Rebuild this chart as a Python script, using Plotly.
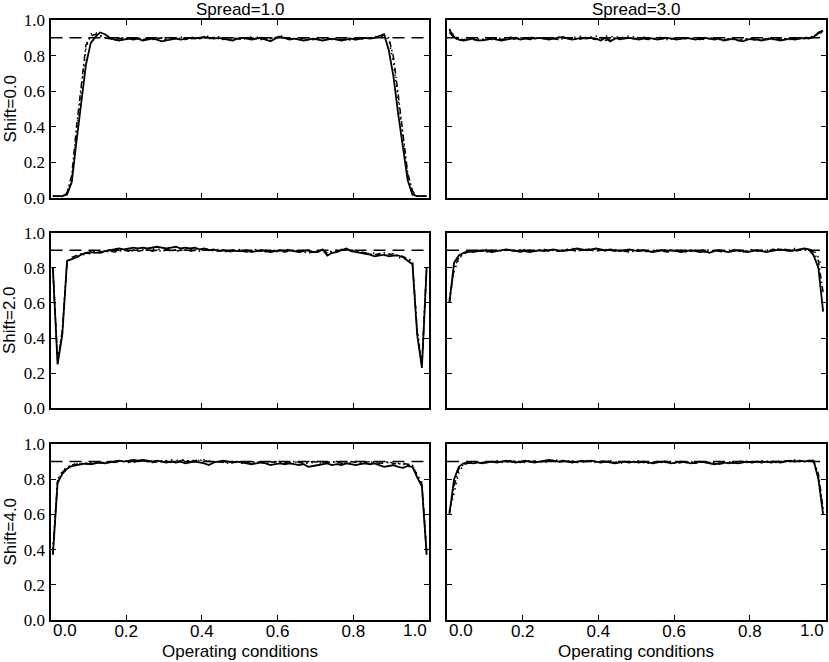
import plotly.graph_objects as go

# ---------------- data ----------------
X_CENTERS = [
    0.00625, 0.01875, 0.03125, 0.04375, 0.05625, 0.06875, 0.08125, 0.09375, 0.10625, 0.11875,
    0.13125, 0.14375, 0.15625, 0.16875, 0.18125, 0.19375, 0.20625, 0.21875, 0.23125, 0.24375,
    0.25625, 0.26875, 0.28125, 0.29375, 0.30625, 0.31875, 0.33125, 0.34375, 0.35625, 0.36875,
    0.38125, 0.39375, 0.40625, 0.41875, 0.43125, 0.44375, 0.45625, 0.46875, 0.48125, 0.49375,
    0.50625, 0.51875, 0.53125, 0.54375, 0.55625, 0.56875, 0.58125, 0.59375, 0.60625, 0.61875,
    0.63125, 0.64375, 0.65625, 0.66875, 0.68125, 0.69375, 0.70625, 0.71875, 0.73125, 0.74375,
    0.75625, 0.76875, 0.78125, 0.79375, 0.80625, 0.81875, 0.83125, 0.84375, 0.85625, 0.86875,
    0.88125, 0.89375, 0.90625, 0.91875, 0.93125, 0.94375, 0.95625, 0.96875, 0.98125, 0.99375,
]
TARGET = 0.9
SPREADS = ["Spread=1.0", "Spread=3.0"]
SHIFTS = ["Shift=0.0", "Shift=2.0", "Shift=4.0"]
X_TICKS = [0.2, 0.4, 0.6, 0.8]
X_TICK_TEXT = ["0.2", "0.4", "0.6", "0.8"]
X_END_LABELS = ["0.0", "1.0"]
Y_TICKS = [0.0, 0.2, 0.4, 0.6, 0.8, 1.0]
Y_TICK_TEXT = ["0.0", "0.2", "0.4", "0.6", "0.8", "1.0"]
X_TITLE = "Operating conditions"

# Shift=0.0, Spread=1.0
A_SOLID = [
    0.01, 0.01, 0.01, 0.02, 0.09, 0.32, 0.53, 0.75, 0.87, 0.905,
    0.93, 0.92, 0.90, 0.89, 0.885, 0.89, 0.895, 0.89, 0.895, 0.885,
    0.89, 0.895, 0.89, 0.88, 0.885, 0.89, 0.895, 0.89, 0.895, 0.90,
    0.895, 0.90, 0.905, 0.90, 0.895, 0.90, 0.895, 0.89, 0.885, 0.895,
    0.90, 0.895, 0.89, 0.895, 0.90, 0.89, 0.88, 0.895, 0.905, 0.90,
    0.89, 0.895, 0.89, 0.885, 0.89, 0.895, 0.89, 0.885, 0.89, 0.895,
    0.89, 0.885, 0.89, 0.895, 0.89, 0.895, 0.90, 0.895, 0.90, 0.91,
    0.92, 0.83, 0.68, 0.47, 0.27, 0.10, 0.02, 0.01, 0.01, 0.01,
]
A_DASHDOT = [
    0.01, 0.01, 0.01, 0.03, 0.13, 0.40, 0.64, 0.86, 0.91, 0.92,
    0.91, 0.90, 0.895, 0.89, 0.895, 0.90, 0.89, 0.895, 0.90, 0.89,
    0.895, 0.89, 0.895, 0.90, 0.89, 0.895, 0.90, 0.895, 0.89, 0.90,
    0.905, 0.895, 0.90, 0.895, 0.90, 0.905, 0.89, 0.895, 0.90, 0.895,
    0.89, 0.90, 0.895, 0.905, 0.895, 0.89, 0.895, 0.90, 0.91, 0.895,
    0.895, 0.89, 0.895, 0.90, 0.895, 0.89, 0.895, 0.90, 0.895, 0.89,
    0.895, 0.89, 0.895, 0.90, 0.895, 0.89, 0.895, 0.90, 0.905, 0.91,
    0.915, 0.90, 0.79, 0.58, 0.35, 0.14, 0.04, 0.01, 0.01, 0.01,
]
A_DOTTED = [
    0.01, 0.01, 0.01, 0.03, 0.11, 0.37, 0.61, 0.84, 0.92, 0.93,
    0.915, 0.90, 0.89, 0.895, 0.90, 0.895, 0.89, 0.90, 0.895, 0.89,
    0.89, 0.895, 0.90, 0.895, 0.89, 0.895, 0.90, 0.905, 0.895, 0.89,
    0.90, 0.895, 0.905, 0.91, 0.90, 0.895, 0.90, 0.89, 0.895, 0.90,
    0.895, 0.90, 0.905, 0.895, 0.89, 0.895, 0.90, 0.895, 0.915, 0.90,
    0.895, 0.89, 0.895, 0.90, 0.885, 0.89, 0.895, 0.90, 0.895, 0.90,
    0.89, 0.895, 0.90, 0.885, 0.89, 0.895, 0.90, 0.895, 0.90, 0.905,
    0.91, 0.89, 0.76, 0.55, 0.33, 0.13, 0.03, 0.01, 0.01, 0.01,
]

# Shift=0.0, Spread=3.0
B_SOLID = [
    0.945, 0.905, 0.89, 0.885, 0.89, 0.895, 0.885, 0.885, 0.89, 0.895,
    0.89, 0.885, 0.89, 0.895, 0.90, 0.89, 0.895, 0.90, 0.895, 0.90,
    0.895, 0.89, 0.895, 0.90, 0.905, 0.895, 0.89, 0.895, 0.90, 0.895,
    0.90, 0.895, 0.885, 0.90, 0.88, 0.895, 0.90, 0.895, 0.90, 0.895,
    0.89, 0.895, 0.90, 0.895, 0.89, 0.895, 0.90, 0.895, 0.89, 0.895,
    0.90, 0.895, 0.89, 0.895, 0.90, 0.895, 0.89, 0.895, 0.885, 0.89,
    0.895, 0.885, 0.88, 0.89, 0.895, 0.89, 0.885, 0.89, 0.895, 0.89,
    0.885, 0.89, 0.895, 0.89, 0.895, 0.90, 0.895, 0.905, 0.93, 0.94,
]
B_DASHDOT = [
    0.93, 0.90, 0.885, 0.89, 0.895, 0.89, 0.885, 0.89, 0.895, 0.89,
    0.895, 0.89, 0.895, 0.89, 0.895, 0.90, 0.895, 0.89, 0.895, 0.90,
    0.895, 0.90, 0.895, 0.89, 0.895, 0.90, 0.895, 0.89, 0.895, 0.90,
    0.895, 0.89, 0.90, 0.885, 0.895, 0.90, 0.89, 0.895, 0.90, 0.895,
    0.90, 0.895, 0.89, 0.895, 0.90, 0.895, 0.89, 0.895, 0.90, 0.89,
    0.895, 0.90, 0.895, 0.89, 0.895, 0.90, 0.895, 0.89, 0.885, 0.895,
    0.89, 0.885, 0.89, 0.895, 0.89, 0.885, 0.89, 0.895, 0.89, 0.895,
    0.89, 0.895, 0.89, 0.895, 0.90, 0.895, 0.90, 0.905, 0.925, 0.93,
]
B_DOTTED = [
    0.95, 0.91, 0.895, 0.89, 0.895, 0.90, 0.895, 0.89, 0.90, 0.895,
    0.90, 0.895, 0.90, 0.905, 0.895, 0.90, 0.895, 0.90, 0.905, 0.895,
    0.90, 0.895, 0.90, 0.905, 0.90, 0.895, 0.90, 0.905, 0.91, 0.90,
    0.905, 0.91, 0.90, 0.91, 0.905, 0.91, 0.90, 0.905, 0.91, 0.905,
    0.90, 0.905, 0.90, 0.895, 0.90, 0.905, 0.90, 0.895, 0.90, 0.895,
    0.90, 0.895, 0.90, 0.895, 0.89, 0.895, 0.90, 0.895, 0.89, 0.895,
    0.89, 0.895, 0.89, 0.895, 0.90, 0.895, 0.89, 0.895, 0.90, 0.895,
    0.90, 0.895, 0.90, 0.895, 0.90, 0.905, 0.90, 0.91, 0.92, 0.935,
]

# Shift=2.0, Spread=1.0
C_SOLID = [
    0.80, 0.25, 0.42, 0.84, 0.85, 0.86, 0.875, 0.885, 0.89, 0.885,
    0.89, 0.895, 0.90, 0.905, 0.91, 0.905, 0.91, 0.915, 0.91, 0.915,
    0.91, 0.915, 0.92, 0.915, 0.91, 0.915, 0.92, 0.91, 0.915, 0.91,
    0.915, 0.905, 0.91, 0.90, 0.905, 0.895, 0.90, 0.895, 0.90, 0.895,
    0.895, 0.90, 0.89, 0.895, 0.90, 0.895, 0.89, 0.895, 0.90, 0.895,
    0.90, 0.895, 0.89, 0.895, 0.90, 0.89, 0.89, 0.905, 0.87, 0.885,
    0.89, 0.90, 0.91, 0.895, 0.89, 0.885, 0.88, 0.875, 0.865, 0.87,
    0.875, 0.865, 0.87, 0.87, 0.86, 0.84, 0.82, 0.42, 0.23, 0.80,
]
C_DASHDOT = [
    0.80, 0.26, 0.44, 0.83, 0.86, 0.87, 0.88, 0.885, 0.88, 0.89,
    0.885, 0.89, 0.895, 0.89, 0.895, 0.90, 0.895, 0.90, 0.895, 0.90,
    0.905, 0.895, 0.90, 0.895, 0.905, 0.90, 0.895, 0.90, 0.905, 0.895,
    0.90, 0.895, 0.90, 0.905, 0.895, 0.90, 0.895, 0.89, 0.895, 0.90,
    0.895, 0.89, 0.895, 0.90, 0.895, 0.89, 0.895, 0.90, 0.895, 0.89,
    0.895, 0.90, 0.895, 0.89, 0.885, 0.89, 0.895, 0.90, 0.885, 0.89,
    0.895, 0.90, 0.905, 0.90, 0.895, 0.89, 0.885, 0.88, 0.875, 0.88,
    0.885, 0.875, 0.88, 0.87, 0.865, 0.85, 0.83, 0.44, 0.24, 0.80,
]
C_DOTTED = [
    0.79, 0.27, 0.45, 0.84, 0.85, 0.86, 0.87, 0.88, 0.89, 0.895,
    0.89, 0.895, 0.90, 0.895, 0.90, 0.905, 0.90, 0.895, 0.90, 0.905,
    0.90, 0.905, 0.91, 0.90, 0.895, 0.90, 0.905, 0.91, 0.90, 0.905,
    0.91, 0.90, 0.905, 0.91, 0.90, 0.905, 0.90, 0.895, 0.90, 0.905,
    0.90, 0.895, 0.90, 0.905, 0.895, 0.90, 0.895, 0.89, 0.895, 0.90,
    0.905, 0.90, 0.895, 0.90, 0.895, 0.89, 0.895, 0.90, 0.89, 0.895,
    0.90, 0.905, 0.91, 0.90, 0.895, 0.89, 0.885, 0.88, 0.885, 0.875,
    0.87, 0.88, 0.875, 0.86, 0.85, 0.855, 0.84, 0.45, 0.25, 0.81,
]

# Shift=2.0, Spread=3.0
D_SOLID = [
    0.60, 0.83, 0.87, 0.885, 0.895, 0.89, 0.895, 0.90, 0.895, 0.89,
    0.895, 0.90, 0.905, 0.90, 0.895, 0.90, 0.895, 0.89, 0.895, 0.90,
    0.895, 0.90, 0.905, 0.90, 0.895, 0.90, 0.905, 0.91, 0.905, 0.90,
    0.905, 0.91, 0.905, 0.90, 0.905, 0.90, 0.895, 0.90, 0.905, 0.90,
    0.895, 0.90, 0.895, 0.89, 0.895, 0.90, 0.895, 0.90, 0.895, 0.89,
    0.895, 0.90, 0.895, 0.89, 0.895, 0.885, 0.895, 0.90, 0.895, 0.89,
    0.895, 0.90, 0.895, 0.89, 0.895, 0.90, 0.895, 0.89, 0.895, 0.90,
    0.905, 0.90, 0.895, 0.90, 0.905, 0.91, 0.905, 0.87, 0.80, 0.55,
]
D_DASHDOT = [
    0.60, 0.80, 0.86, 0.88, 0.89, 0.895, 0.90, 0.895, 0.89, 0.895,
    0.90, 0.895, 0.90, 0.905, 0.895, 0.89, 0.895, 0.90, 0.895, 0.90,
    0.905, 0.895, 0.90, 0.895, 0.90, 0.905, 0.90, 0.895, 0.90, 0.905,
    0.90, 0.895, 0.90, 0.905, 0.90, 0.895, 0.90, 0.895, 0.89, 0.895,
    0.90, 0.895, 0.89, 0.895, 0.90, 0.895, 0.89, 0.895, 0.90, 0.895,
    0.89, 0.895, 0.90, 0.895, 0.89, 0.895, 0.90, 0.895, 0.89, 0.895,
    0.90, 0.895, 0.89, 0.895, 0.90, 0.895, 0.90, 0.895, 0.90, 0.905,
    0.90, 0.905, 0.90, 0.895, 0.90, 0.905, 0.90, 0.89, 0.84, 0.66,
]
D_DOTTED = [
    0.62, 0.78, 0.85, 0.88, 0.895, 0.90, 0.895, 0.90, 0.905, 0.90,
    0.895, 0.90, 0.905, 0.90, 0.895, 0.90, 0.905, 0.90, 0.895, 0.90,
    0.90, 0.905, 0.90, 0.895, 0.90, 0.905, 0.91, 0.905, 0.90, 0.905,
    0.91, 0.905, 0.90, 0.895, 0.90, 0.905, 0.90, 0.895, 0.90, 0.90,
    0.905, 0.90, 0.895, 0.90, 0.895, 0.90, 0.905, 0.90, 0.895, 0.90,
    0.895, 0.90, 0.895, 0.90, 0.905, 0.90, 0.895, 0.90, 0.895, 0.90,
    0.905, 0.90, 0.895, 0.90, 0.905, 0.90, 0.895, 0.90, 0.905, 0.91,
    0.905, 0.90, 0.905, 0.91, 0.905, 0.90, 0.905, 0.90, 0.86, 0.78,
]

# Shift=4.0, Spread=1.0
E_SOLID = [
    0.37, 0.78, 0.83, 0.86, 0.875, 0.88, 0.885, 0.89, 0.885, 0.89,
    0.895, 0.89, 0.895, 0.90, 0.905, 0.90, 0.905, 0.91, 0.905, 0.91,
    0.905, 0.90, 0.905, 0.90, 0.895, 0.90, 0.895, 0.90, 0.89, 0.895,
    0.90, 0.895, 0.89, 0.88, 0.895, 0.90, 0.905, 0.90, 0.895, 0.90,
    0.895, 0.89, 0.885, 0.89, 0.895, 0.89, 0.88, 0.885, 0.89, 0.885,
    0.89, 0.885, 0.88, 0.885, 0.87, 0.875, 0.88, 0.885, 0.89, 0.88,
    0.885, 0.88, 0.89, 0.885, 0.88, 0.885, 0.89, 0.885, 0.89, 0.88,
    0.87, 0.875, 0.88, 0.87, 0.865, 0.875, 0.87, 0.81, 0.76, 0.37,
]
E_DASHDOT = [
    0.38, 0.79, 0.84, 0.865, 0.88, 0.885, 0.89, 0.885, 0.89, 0.895,
    0.89, 0.895, 0.90, 0.895, 0.90, 0.905, 0.90, 0.895, 0.90, 0.905,
    0.90, 0.895, 0.90, 0.905, 0.90, 0.895, 0.90, 0.905, 0.91, 0.90,
    0.905, 0.91, 0.905, 0.90, 0.895, 0.90, 0.895, 0.89, 0.895, 0.90,
    0.895, 0.89, 0.895, 0.90, 0.895, 0.89, 0.895, 0.90, 0.895, 0.89,
    0.895, 0.90, 0.895, 0.89, 0.895, 0.90, 0.895, 0.89, 0.895, 0.90,
    0.895, 0.89, 0.895, 0.90, 0.895, 0.89, 0.895, 0.90, 0.895, 0.89,
    0.895, 0.90, 0.89, 0.885, 0.89, 0.885, 0.88, 0.82, 0.77, 0.38,
]
E_DOTTED = [
    0.40, 0.80, 0.845, 0.87, 0.88, 0.89, 0.885, 0.89, 0.895, 0.89,
    0.895, 0.90, 0.895, 0.90, 0.905, 0.90, 0.895, 0.90, 0.905, 0.90,
    0.905, 0.90, 0.895, 0.90, 0.905, 0.91, 0.905, 0.91, 0.905, 0.90,
    0.91, 0.905, 0.91, 0.905, 0.90, 0.895, 0.90, 0.895, 0.90, 0.895,
    0.89, 0.895, 0.90, 0.895, 0.89, 0.895, 0.90, 0.895, 0.90, 0.895,
    0.89, 0.895, 0.90, 0.895, 0.89, 0.895, 0.90, 0.895, 0.89, 0.895,
    0.90, 0.895, 0.89, 0.895, 0.90, 0.895, 0.89, 0.895, 0.90, 0.895,
    0.89, 0.895, 0.885, 0.89, 0.885, 0.88, 0.875, 0.83, 0.78, 0.40,
]

# Shift=4.0, Spread=3.0
F_SOLID = [
    0.60, 0.80, 0.87, 0.89, 0.895, 0.89, 0.895, 0.89, 0.895, 0.90,
    0.895, 0.90, 0.905, 0.90, 0.895, 0.90, 0.905, 0.90, 0.895, 0.90,
    0.905, 0.91, 0.905, 0.90, 0.905, 0.90, 0.895, 0.90, 0.905, 0.90,
    0.905, 0.90, 0.895, 0.90, 0.895, 0.89, 0.895, 0.90, 0.895, 0.90,
    0.895, 0.90, 0.895, 0.89, 0.895, 0.90, 0.895, 0.89, 0.895, 0.90,
    0.895, 0.89, 0.895, 0.90, 0.895, 0.89, 0.885, 0.89, 0.895, 0.89,
    0.895, 0.89, 0.895, 0.90, 0.895, 0.90, 0.895, 0.90, 0.895, 0.90,
    0.895, 0.90, 0.905, 0.90, 0.905, 0.90, 0.905, 0.905, 0.80, 0.60,
]
F_DASHDOT = [
    0.61, 0.76, 0.86, 0.885, 0.89, 0.895, 0.89, 0.895, 0.90, 0.895,
    0.90, 0.895, 0.90, 0.905, 0.90, 0.895, 0.90, 0.905, 0.90, 0.895,
    0.90, 0.905, 0.90, 0.895, 0.90, 0.905, 0.90, 0.895, 0.90, 0.905,
    0.90, 0.895, 0.90, 0.905, 0.90, 0.895, 0.89, 0.895, 0.90, 0.895,
    0.90, 0.895, 0.89, 0.895, 0.90, 0.895, 0.90, 0.895, 0.89, 0.895,
    0.90, 0.895, 0.89, 0.895, 0.90, 0.895, 0.89, 0.885, 0.89, 0.895,
    0.89, 0.895, 0.90, 0.895, 0.90, 0.895, 0.90, 0.895, 0.90, 0.895,
    0.90, 0.905, 0.90, 0.905, 0.90, 0.905, 0.90, 0.90, 0.83, 0.63,
]
F_DOTTED = [
    0.62, 0.72, 0.84, 0.88, 0.895, 0.90, 0.895, 0.89, 0.895, 0.90,
    0.905, 0.90, 0.895, 0.90, 0.905, 0.90, 0.895, 0.90, 0.905, 0.90,
    0.895, 0.90, 0.905, 0.91, 0.905, 0.90, 0.905, 0.90, 0.895, 0.90,
    0.905, 0.90, 0.895, 0.90, 0.905, 0.90, 0.895, 0.90, 0.895, 0.90,
    0.905, 0.90, 0.895, 0.90, 0.895, 0.90, 0.905, 0.90, 0.895, 0.90,
    0.895, 0.90, 0.895, 0.90, 0.895, 0.89, 0.895, 0.90, 0.895, 0.90,
    0.895, 0.90, 0.905, 0.90, 0.895, 0.90, 0.905, 0.90, 0.905, 0.90,
    0.905, 0.90, 0.905, 0.91, 0.905, 0.90, 0.905, 0.90, 0.82, 0.62,
]

PANELS = [
    [(A_SOLID, A_DASHDOT, A_DOTTED), (B_SOLID, B_DASHDOT, B_DOTTED)],
    [(C_SOLID, C_DASHDOT, C_DOTTED), (D_SOLID, D_DASHDOT, D_DOTTED)],
    [(E_SOLID, E_DASHDOT, E_DOTTED), (F_SOLID, F_DASHDOT, F_DOTTED)],
]

# ---------------- layout geometry (pixels) ----------------
W, H = 829, 662
COL_PX = [(50.5, 429.0), (447.0, 825.5)]
ROW_PX = [(20.0, 198.0), (232.7, 408.3), (444.0, 620.0)]

SANS = "Liberation Sans, Arial, sans-serif"
SERIF = "Liberation Serif, Times New Roman, serif"

fig = go.Figure()
layout = dict(
    width=W, height=H,
    margin=dict(l=0, r=0, t=0, b=0, autoexpand=False),
    paper_bgcolor="white", plot_bgcolor="white",
    showlegend=False,
    font=dict(family=SANS, size=17, color="black"),
)
annotations = []

for r in range(3):
    for c in range(2):
        k = r * 2 + c + 1
        xa = "x" if k == 1 else f"x{k}"
        ya = "y" if k == 1 else f"y{k}"
        x0, x1 = COL_PX[c]
        y0, y1 = ROW_PX[r]
        solid, dashdot, dotted = PANELS[r][c]

        fig.add_trace(go.Scatter(x=[0, 1], y=[TARGET, TARGET], mode="lines",
                                 line=dict(color="black", width=1.5, dash="12px,7px"),
                                 xaxis=xa, yaxis=ya, hoverinfo="skip"))
        fig.add_trace(go.Scatter(x=X_CENTERS, y=dotted, mode="lines",
                                 line=dict(color="black", width=1.5, dash="1.5px,4px"),
                                 xaxis=xa, yaxis=ya))
        fig.add_trace(go.Scatter(x=X_CENTERS, y=dashdot, mode="lines",
                                 line=dict(color="black", width=1.5, dash="6px,3px,1.5px,3px"),
                                 xaxis=xa, yaxis=ya))
        fig.add_trace(go.Scatter(x=X_CENTERS, y=solid, mode="lines",
                                 line=dict(color="black", width=1.8),
                                 xaxis=xa, yaxis=ya))

        bottom = r == 2
        left = c == 0
        xkey = "xaxis" if k == 1 else f"xaxis{k}"
        ykey = "yaxis" if k == 1 else f"yaxis{k}"
        layout[xkey] = dict(
            domain=[x0 / W, x1 / W], anchor=ya, range=[0, 1], automargin=False,
            tickvals=X_TICKS, ticktext=X_TICK_TEXT, ticklabelstandoff=-5,
            showticklabels=bottom, ticks="inside", ticklen=5, tickwidth=1,
            tickcolor="black", mirror="ticks", showline=True, linecolor="black",
            linewidth=2, showgrid=False, zeroline=False,
            tickfont=dict(family=SANS, size=17, color="black"),
        )
        layout[ykey] = dict(
            domain=[1 - y1 / H, 1 - y0 / H], anchor=xa, range=[0, 1], automargin=False,
            tickvals=Y_TICKS, ticktext=Y_TICK_TEXT,
            showticklabels=left, ticks="inside", ticklen=5, tickwidth=1,
            tickcolor="black", mirror="ticks", showline=True, linecolor="black",
            linewidth=2, showgrid=False, zeroline=False,
            tickfont=dict(family=SERIF, size=17, color="black"),
        )

        if bottom:
            annotations.append(dict(text=X_END_LABELS[0], x=0, xref=xa, xanchor="left",
                                    y=1 - 630.5 / H, yref="paper", yanchor="middle",
                                    showarrow=False, font=dict(family=SANS, size=17)))
            annotations.append(dict(text=X_END_LABELS[1], x=1, xref=xa, xanchor="right",
                                    y=1 - 630.5 / H, yref="paper", yanchor="middle",
                                    showarrow=False, font=dict(family=SANS, size=17)))
            annotations.append(dict(text=X_TITLE, x=(x0 + x1) / 2 / W, xref="paper",
                                    xanchor="center", y=1 - 651 / H, yref="paper",
                                    yanchor="middle", showarrow=False,
                                    font=dict(family=SANS, size=17)))
        if r == 0:
            annotations.append(dict(text=SPREADS[c], x=(x0 + x1) / 2 / W, xref="paper",
                                    xanchor="center", y=1 - 9 / H, yref="paper",
                                    yanchor="middle", showarrow=False,
                                    font=dict(family=SANS, size=17)))
        if left:
            annotations.append(dict(text=SHIFTS[r], x=9.5 / W, xref="paper",
                                    xanchor="center", y=1 - (y0 + y1) / 2 / H, yref="paper",
                                    yanchor="middle", textangle=-90, showarrow=False,
                                    font=dict(family=SANS, size=17)))

layout["annotations"] = annotations
fig.update_layout(**layout)
fig.write_html(
    "out.html",
    config={"displayModeBar": False},
    post_script="document.body.style.margin='0px';document.body.style.overflow='hidden';",
)
